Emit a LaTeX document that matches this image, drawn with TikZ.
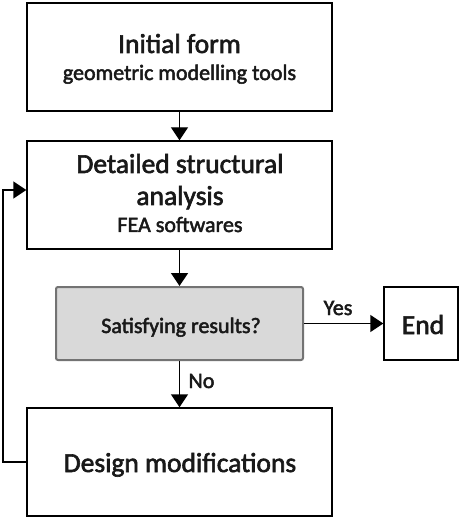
\documentclass[tikz,border=0pt]{standalone}
\usepackage{fontspec}
\setmainfont{Carlito}[FakeBold=2.2]
\usetikzlibrary{arrows.meta}
\begin{document}
\begin{tikzpicture}[x=1pt,y=-1pt,
  box/.style={draw=black,line width=1.4pt,fill=white,inner sep=0pt},
  decbox/.style={draw=black!55,line width=2pt,fill=black!15,rounded corners=2pt,inner sep=0pt},
  conn/.style={line width=1.4pt,-{Triangle[length=13pt,width=17pt]}},
  txt/.style={anchor=base,inner sep=0pt,text=black!90},
  bigt/.style={txt,font=\fontsize{27.5}{30}\selectfont},
  smallt/.style={txt,font=\fontsize{22}{25}\selectfont},
  lbl/.style={txt,font=\fontsize{22}{25}\selectfont},
]
\useasboundingbox (0,0) rectangle (460,518);
\node[box,minimum width=305pt,minimum height=108pt] (init) at (179.5,57) {};
\node[box,minimum width=305pt,minimum height=108pt] (fea) at (179.5,195) {};
\node[decbox,minimum width=247pt,minimum height=73pt] (sat) at (179.5,323.5) {};
\node[box,minimum width=74pt,minimum height=73pt] (end) at (421,323.5) {};
\node[box,minimum width=305pt,minimum height=108pt] (mod) at (179.5,462) {};
% texts
\node[bigt] (t1) at (179.5,53) {Initial form};
\node[smallt] (t2) at (179.5,80) {geometric modelling tools};
\node[bigt] (t3) at (180,173) {Detailed structural};
\node[bigt] (t4) at (180,205) {analysis};
\node[smallt] (t5) at (180,232) {FEA softwares};
\node[smallt] (t6) at (181,333) {Satisfying results?};
\node[bigt] (t7) at (423,334) {End};
\node[bigt] (t8) at (180,472) {Design modifications};
\coordinate (c1) at (3,462);
\coordinate (c2) at (3,190);
\draw[conn] (init.south) -- (fea.north);
\draw[conn] (fea.south) -- (sat.north);
\draw[conn] (sat.east) -- (end.west);
\draw[conn] (sat.south) -- (mod.north);
\node[lbl] (yes) at (338,315) {Yes};
\node[lbl] (no) at (201.5,388) {No};
\draw[conn] (mod.west |- c1) -- (c1) -- (c2) -- (fea.west |- c2);
\end{tikzpicture}
\end{document}
